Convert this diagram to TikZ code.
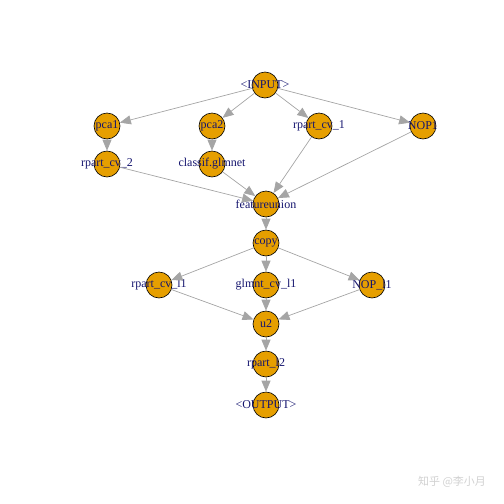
\documentclass[tikz,border=0pt]{standalone}
\usepackage{fontspec}
\setmainfont{Liberation Serif}
\newfontfamily\cjk{Noto Sans CJK SC}
\usetikzlibrary{arrows.meta}
\definecolor{vorange}{RGB}{230,159,0}
\definecolor{vlabel}{RGB}{20,20,110}
\definecolor{vedge}{RGB}{165,165,165}
\begin{document}
\begin{tikzpicture}[x=1pt, y=-1pt,
	vertex/.style={circle, fill=vorange, draw=black, line width=0.6pt, minimum size=26pt, inner sep=0pt},
	lbl/.style={text=vlabel, font=\fontsize{12}{12}\selectfont, inner sep=0pt},
	edge/.style={draw=vedge, line width=0.7pt, -{Triangle[length=11pt, width=9pt]}}]
	\useasboundingbox (0,0) rectangle (504,504);
		\node[vertex, label={[lbl]center:<INPUT>}] (input) at (265,85) {};
		\node[vertex, label={[lbl]center:pca1}] (pca1) at (107,126) {};
		\node[vertex, label={[lbl]center:pca2}] (pca2) at (212,126) {};
		\node[vertex, label={[lbl]center:rpart\_cv\_1}] (rpcv1) at (319,126) {};
		\node[vertex, label={[lbl]center:NOP1}] (nop1) at (423,126) {};
		\node[vertex, label={[lbl]center:rpart\_cv\_2}] (rpcv2) at (107,164) {};
		\node[vertex, label={[lbl]center:classif.glmnet}] (glmnet) at (212,164) {};
		\node[vertex, label={[lbl]center:featureunion}] (fu) at (266,204) {};
		\node[vertex, label={[lbl]center:copy}] (copy) at (266,243) {};
		\node[vertex, label={[lbl]center:rpart\_cv\_l1}] (rpl1) at (159,285) {};
		\node[vertex, label={[lbl]center:glmnt\_cv\_l1}] (gll1) at (266,285) {};
		\node[vertex, label={[lbl]center:NOP\_l1}] (nopl1) at (372,285) {};
		\node[vertex, label={[lbl]center:u2}] (u2) at (266,324) {};
		\node[vertex, label={[lbl]center:rpart\_l2}] (rpl2) at (266,364) {};
		\node[vertex, label={[lbl]center:<OUTPUT>}] (output) at (266,405) {};
		% connectors
		\foreach \a/\b in {input/pca1, input/pca2, input/rpcv1, input/nop1,
		  pca1/rpcv2, pca2/glmnet, rpcv2/fu, glmnet/fu, rpcv1/fu, nop1/fu,
		  fu/copy, copy/rpl1, copy/gll1, copy/nopl1,
		  rpl1/u2, gll1/u2, nopl1/u2, u2/rpl2, rpl2/output}{
		  \path[edge] (\a) -- (\b);
		}
		\node[text=black!18, font=\cjk\fontsize{11}{11}\selectfont] (mark) at (452,482) {知乎 @李小月};
	\end{tikzpicture}
\end{document}
